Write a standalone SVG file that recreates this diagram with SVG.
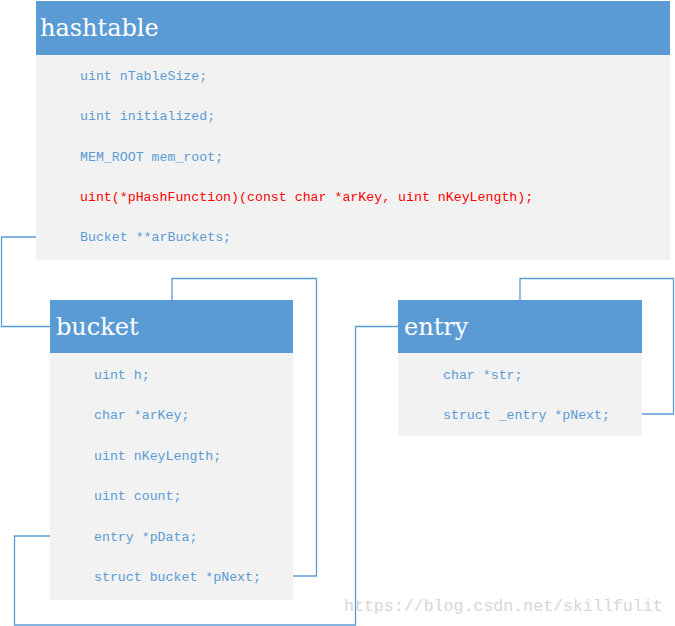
<svg xmlns="http://www.w3.org/2000/svg" width="675" height="626" viewBox="0 0 675 626">
<style>
.hdr{fill:#5b9bd5}
.body{fill:#f2f2f2}
.title{font-family:"DejaVu Serif",serif;font-size:24px;fill:#ffffff}
.m{font-family:"Liberation Mono",monospace;font-size:13.25px;fill:#5b9bd5}
.red{fill:#ff0000}
.conn{fill:none;stroke:#5b9bd5;stroke-width:1.3}
.wm{font-family:"Liberation Mono",monospace;font-size:16.6px;fill:#d6d6d6}
</style>
<rect width="675" height="626" fill="#ffffff"/>
<g id="connectors">
<polyline class="conn" points="36,237 1.5,237 1.5,326.5 50,326.5"/>
<polyline class="conn" points="172,300 172,278.5 316.5,278.5 316.5,576 293,576"/>
<polyline class="conn" points="50,536 14.5,536 14.5,625 355.5,625 355.5,326.5 398,326.5"/>
<polyline class="conn" points="520,300 520,278.5 673.5,278.5 673.5,414 642,414"/>
</g>
<g id="hashtable">
<rect class="body" x="36" y="55" width="634" height="205"/>
<rect class="hdr" x="36" y="1" width="634" height="54"/>
<text class="title" x="40" y="36">hashtable</text>
<text class="m" x="80" y="80">uint nTableSize;</text>
<text class="m" x="80" y="120">uint initialized;</text>
<text class="m" x="80" y="161">MEM_ROOT mem_root;</text>
<text class="m red" x="80" y="201">uint(*pHashFunction)(const char *arKey, uint nKeyLength);</text>
<text class="m" x="80" y="241">Bucket **arBuckets;</text>
</g>
<g id="bucket">
<rect class="body" x="50" y="353" width="243" height="247"/>
<rect class="hdr" x="50" y="300" width="243" height="53"/>
<text class="title" x="56" y="335">bucket</text>
<text class="m" x="94" y="379">uint h;</text>
<text class="m" x="94" y="419">char *arKey;</text>
<text class="m" x="94" y="460">uint nKeyLength;</text>
<text class="m" x="94" y="500">uint count;</text>
<text class="m" x="94" y="541">entry *pData;</text>
<text class="m" x="94" y="581">struct bucket *pNext;</text>
</g>
<g id="entry">
<rect class="body" x="398" y="353" width="244" height="83"/>
<rect class="hdr" x="398" y="300" width="244" height="53"/>
<text class="title" x="404" y="335">entry</text>
<text class="m" x="443" y="379">char *str;</text>
<text class="m" x="443" y="419">struct _entry *pNext;</text>
</g>
<text class="wm" x="344" y="611">https://blog.csdn.net/skillfulit</text>
</svg>
